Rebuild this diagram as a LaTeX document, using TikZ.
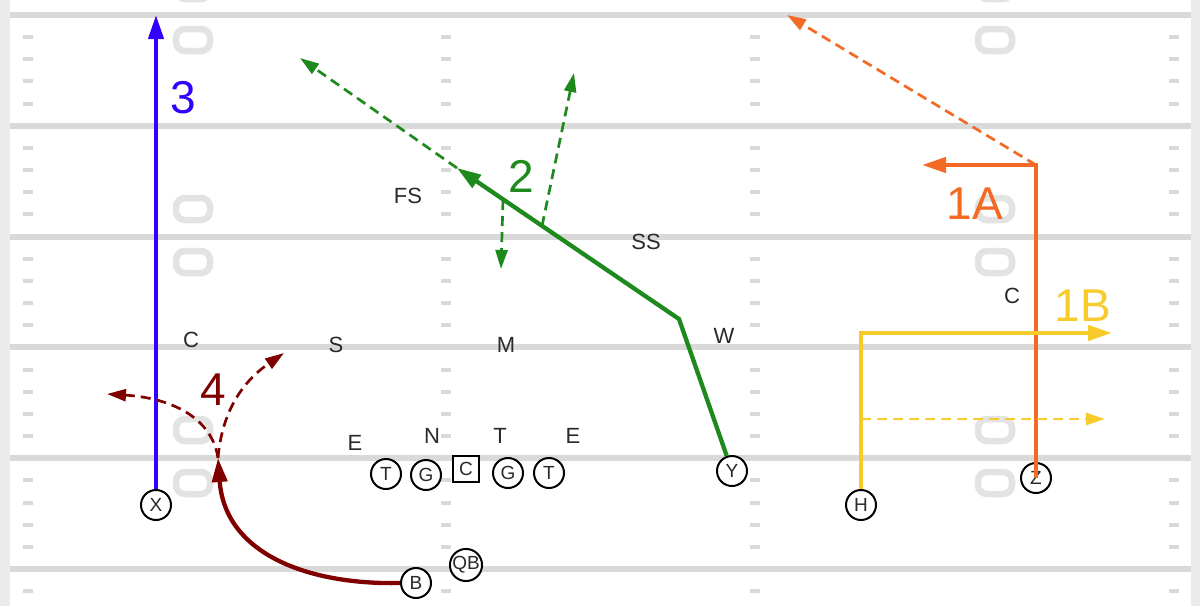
\documentclass[tikz,border=0pt]{standalone}
\usepackage{fontspec}
\setmainfont{Liberation Sans}
\usetikzlibrary{arrows.meta}
\definecolor{fieldline}{HTML}{D9D9D9}
\definecolor{numgray}{HTML}{E3E3E3}
\definecolor{sidegray}{HTML}{EBEBEB}
\definecolor{rblue}{HTML}{3300FF}
\definecolor{rgreen}{HTML}{1E8A1E}
\definecolor{rorange}{HTML}{F26A24}
\definecolor{ryellow}{HTML}{F8CB2C}
\definecolor{rred}{HTML}{800000}
\definecolor{txt}{HTML}{2A2A2A}
\begin{document}
\begin{tikzpicture}[x=1pt,y=-1pt,
  yardline/.style={fieldline, line width=6pt},
  hashmark/.style={fieldline, line width=4pt},
  numzero/.style={numgray, line width=6.5pt, rounded corners=9pt},
  player/.style={circle, draw=black, line width=2pt, fill=white, minimum size=30pt, inner sep=0pt, text=txt, font=\fontsize{19}{19}\selectfont},
  lineman/.style={rectangle, draw=black, line width=2.2pt, fill=white, minimum size=26pt, inner sep=0pt, text=txt, font=\fontsize{19}{19}\selectfont},
  defender/.style={inner sep=0pt, text=txt, font=\fontsize{22}{22}\selectfont},
  routenum/.style={inner sep=0pt, font=\fontsize{46}{46}\selectfont},
  mainroute/.style={line width=4.3pt, -{Triangle[length=24pt,width=15pt]}},
  optroute/.style={line width=2.7pt, dash pattern=on 10pt off 6pt, -{Triangle[length=19pt,width=12pt]}},
]
\useasboundingbox (0,0) rectangle (1200,606);
\fill[white] (0,0) rectangle (1200,606);
% sidelines
\fill[sidegray] (0,0) rectangle (10,606);
\fill[sidegray] (1191,0) rectangle (1200,606);
% yard lines
\foreach \k in {0,...,5} {
  \draw[yardline] (10,{15+110.8*\k}) -- (1191,{15+110.8*\k});
}
% hash marks
\foreach \hx in {28,446,755,1174} {
  \foreach \k in {0,...,4} {
    \foreach \j in {1,...,4} {
      \draw[hashmark] ({\hx-5},{15+110.8*\k+22.16*\j}) -- ({\hx+5},{15+110.8*\k+22.16*\j});
    }
  }
  \draw[hashmark] ({\hx-5},591) -- ({\hx+5},591);
}
% yard numbers (zeros)
\foreach \nx in {193,995} {
  \foreach \ny in {-12,40,209,262,430,483} {
    \draw[numzero] ({\nx-17},{\ny-11}) rectangle ({\nx+17},{\ny+11});
  }
}
% defense
\node[defender] (CBL) at (191,340) {C};
\node[defender] (S) at (336,345) {S};
\node[defender] (M) at (506,345) {M};
\node[defender] (W) at (724,336) {W};
\node[defender] (FS) at (408,196) {FS};
\node[defender] (SS) at (646,242) {SS};
\node[defender] (CBR) at (1012,296) {C};
\node[defender] (DEL) at (355,443) {E};
\node[defender] (N) at (432,436) {N};
\node[defender] (DT) at (500,436) {T};
\node[defender] (DER) at (573,436) {E};
% offense
\node[player] (X) at (156,505) {X};
\node[player] (LT) at (386,474) {T};
\node[player] (LG) at (426,475) {G};
\node[lineman] (C) at (466,469) {C};
\node[player] (RG) at (508,473) {G};
\node[player] (RT) at (549,473) {T};
\node[player] (QB) at (466,565) {QB};
\node[player] (B) at (416,583) {B};
\node[player] (Y) at (732,471) {Y};
\node[player] (H) at (861,505) {H};
\node[player] (Z) at (1036,478) {Z};
% route 3 (X)
\coordinate (xend) at (156,15);
\draw[mainroute, rblue] (X) -- (xend);
% route 2 (Y)
\coordinate (ybend) at (679,319);
\coordinate (ytip) at (457,168);
\coordinate (ydeep) at (300,58);
\coordinate (ybr1) at (503,200);
\coordinate (ybr1end) at (501,269);
\coordinate (ybr2) at (542,226);
\coordinate (ybr2end) at (574,73);
\draw[mainroute, rgreen] (Y) -- (ybend) -- (ytip);
\draw[optroute, rgreen] (ytip) -- (ydeep);
\draw[optroute, rgreen] (ybr1) -- (ybr1end);
\draw[optroute, rgreen] (ybr2) -- (ybr2end);
% route 1A (Z)
\coordinate (zcorner) at (1036,165);
\coordinate (ztip) at (922,165);
\coordinate (zdeep) at (787,15);
\draw[mainroute, rorange] (Z.center) -- (zcorner) -- (ztip);
\draw[optroute, rorange] (zcorner) -- (zdeep);
% route 1B (H)
\coordinate (hcorner) at (861,333);
\coordinate (htip) at (1112,333);
\coordinate (hdash) at (861,419);
\coordinate (hdashtip) at (1105,419);
\draw[mainroute, ryellow] (H) -- (hcorner) -- (htip);
\draw[optroute, ryellow] (hdash) -- (hdashtip);
% route 4 (B)
\coordinate (btip) at (218,458);
\coordinate (bleft) at (107,394);
\coordinate (bright) at (284,353);
\draw[mainroute, rred] (B.west) .. controls (310,585) and (225,555) .. (btip);
\draw[optroute, rred] (btip) .. controls (212,418) and (172,398) .. (bleft);
\draw[optroute, rred] (btip) .. controls (222,412) and (242,382) .. (bright);
% route numbers
\node[routenum, rblue] (n3) at (183,98) {3};
\node[routenum, rgreen] (n2) at (521,176) {2};
\node[routenum, rorange] (n1a) at (975,204) {1A};
\node[routenum, ryellow] (n1b) at (1083,306) {1B};
\node[routenum, rred] (n4) at (213,390) {4};
\end{tikzpicture}
\end{document}
